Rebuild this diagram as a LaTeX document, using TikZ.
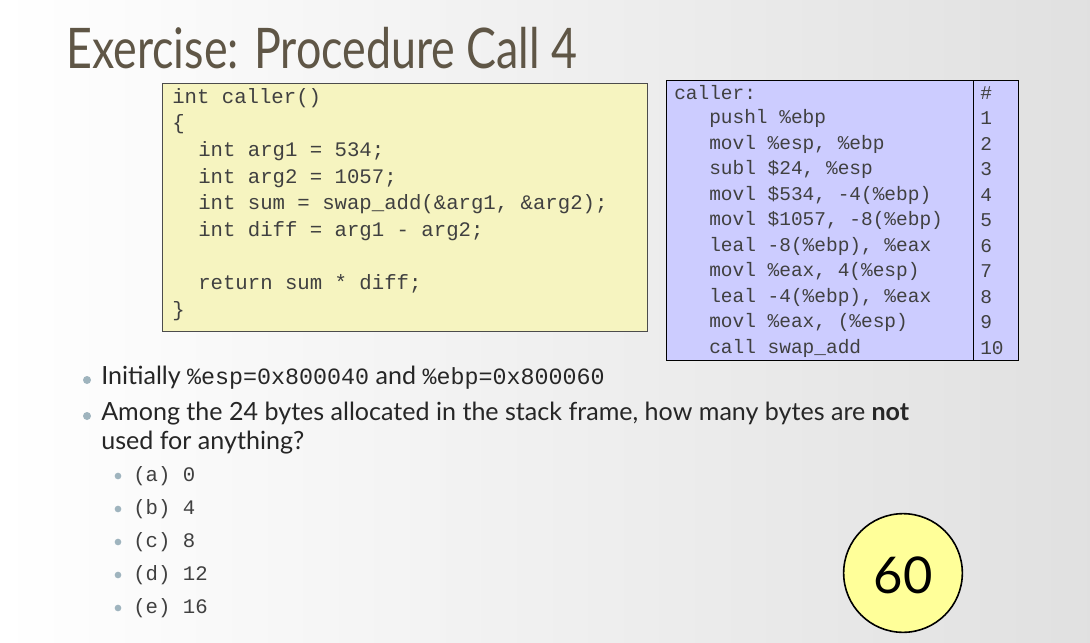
\documentclass[tikz,border=0pt]{standalone}
\usepackage{fontspec}
\setmainfont{Lato}
\setmonofont{Liberation Mono}
\definecolor{titlec}{HTML}{5F5646}
\definecolor{yel}{HTML}{F6F4C0}
\definecolor{blu}{HTML}{CCCCFF}
\definecolor{bul}{HTML}{9FB4BE}
\definecolor{circ}{HTML}{FFFF99}
\definecolor{codec}{HTML}{404040}
\tikzset{
 code/.style={anchor=west,inner sep=0pt,font=\fontsize{15.5}{18}\ttfamily,text=codec},
 acode/.style={anchor=west,inner sep=0pt,font=\fontsize{14.6}{17}\ttfamily,text=codec},
 txt/.style={anchor=west,inner sep=0pt,font=\fontsize{18.8}{22}\selectfont,text=black!85},
 dot/.style={circle,fill=bul,inner sep=0pt,minimum size=6pt},
}
\begin{document}
\begin{tikzpicture}[x=0.75pt,y=-0.75pt]
\useasboundingbox (0,0) rectangle (1090,643);
\shade[left color=white,right color=black!12] (0,0) rectangle (1090,643);
\node[anchor=west,inner sep=0pt,font=\fontsize{42}{46}\selectfont,text=titlec,xscale=0.8,transform shape] (title) at (66,48) {Exercise: Procedure Call 4};
% C code box
\draw[fill=yel,draw=black!70] (162,83) rectangle (647,331);
\node[code] (c1) at (172,98) {int caller()};
\node[code] (c2) at (172,124) {\{};
\node[code] (c3) at (198,151) {int arg1 = 534;};
\node[code] (c4) at (198,178) {int arg2 = 1057;};
\node[code] (c5) at (198,204) {int sum = swap\_add(\&arg1, \&arg2);};
\node[code] (c6) at (198,231) {int diff = arg1 - arg2;};
\node[code] (c7) at (198,284) {return sum * diff;};
\node[code] (c8) at (172,311) {\}};
% asm box
\draw[fill=blu,draw=black] (666,80) rectangle (1018,360);
\draw (973,80) -- (973,360);
\node[acode] (a0) at (674,93) {caller:};
\node[acode] (a1) at (709,118.5) {pushl \%ebp};
\node[acode] (a2) at (709,144) {movl \%esp, \%ebp};
\node[acode] (a3) at (709,169.5) {subl \$24, \%esp};
\node[acode] (a4) at (709,195) {movl \$534, -4(\%ebp)};
\node[acode] (a5) at (709,220.5) {movl \$1057, -8(\%ebp)};
\node[acode] (a6) at (709,246) {leal -8(\%ebp), \%eax};
\node[acode] (a7) at (709,271.5) {movl \%eax, 4(\%esp)};
\node[acode] (a8) at (709,297) {leal -4(\%ebp), \%eax};
\node[acode] (a9) at (709,322.5) {movl \%eax, (\%esp)};
\node[acode] (a10) at (709,348) {call swap\_add};
\node[acode] (n0) at (980,93) {\#};
\foreach \i in {1,...,10}
  \node[acode] (n\i) at (980,{93+25.5*\i}) {\i};
% bullets
\node[dot] (b1) at (87,380) {};
\node[txt] (t1) at (101,378) {Initially {\ttfamily\fontsize{17.5}{20}\selectfont \%esp=0x800040} and {\ttfamily\fontsize{17.5}{20}\selectfont \%ebp=0x800060}};
\node[dot] (b2) at (87,416) {};
\node[txt] (t2) at (101,414) {Among the 24 bytes allocated in the stack frame, how many bytes are \textbf{not}};
\node[txt] (t3) at (101,443) {used for anything?};
\foreach \l/\v [count=\i] in {a/0,b/4,c/8,d/12,e/16}{
  \node[dot,minimum size=5pt] (d\i) at (118,{476+33*(\i-1)}) {};
  \node[anchor=west,inner sep=0pt,font=\fontsize{15.5}{18}\ttfamily,text=codec] (o\i) at (133,{476+33*(\i-1)}) {(\l)\ \v};
}
\node[circle,draw=black,line width=1.2pt,fill=circ,minimum size=89pt] (cnt) at (903,573) {};
\node[font=\fontsize{38}{42}\selectfont] (num) at (903,575) {60};
\end{tikzpicture}
\end{document}
